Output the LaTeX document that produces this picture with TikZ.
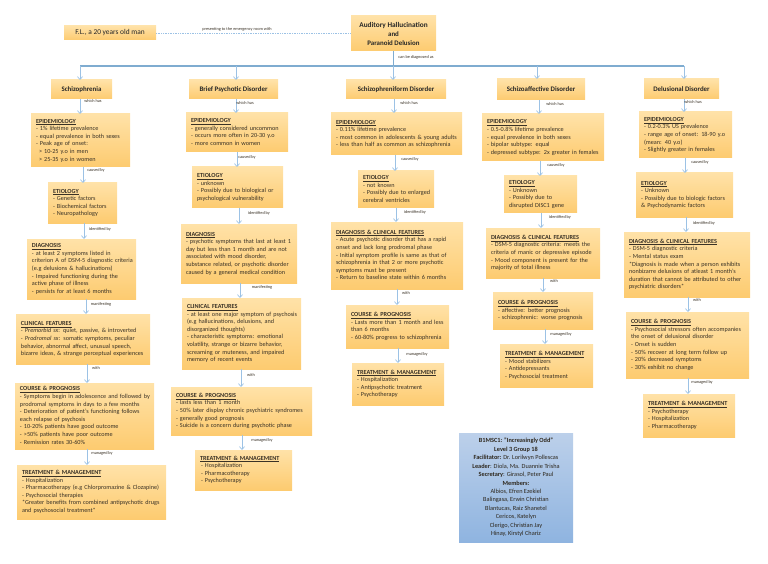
\documentclass[tikz,border=0pt]{standalone}
\usepackage{fontspec}
\setmainfont{Carlito}
\usetikzlibrary{arrows.meta}
\definecolor{inkc}{HTML}{3A3226}
\definecolor{boxtop}{HTML}{FFE2A8}
\definecolor{boxbot}{HTML}{FDCB70}
\definecolor{bluetop}{HTML}{BCD0EA}
\definecolor{bluebot}{HTML}{8FB4E0}
\definecolor{linec}{HTML}{9CC2E5}
\definecolor{trunkc}{HTML}{7FACD0}
\tikzset{
  x=1pt,y=-1pt,
  boxbase/.style={draw=none,top color=boxtop,bottom color=boxbot,inner sep=0pt,outer sep=0pt},
  textbox/.style={boxbase,align=left,text=inkc,font=\fontsize{6.2}{7.6}\selectfont},
  titlebox/.style={boxbase,align=center,text=black!85,font=\bfseries\fontsize{6.9}{9}\selectfont},
  groupbox/.style={draw=none,top color=bluetop,bottom color=bluebot,inner sep=0pt,outer sep=0pt,align=center,text=inkc!80!black,font=\fontsize{6.3}{8.45}\selectfont},
  lbl/.style={font=\fontsize{4.3}{5}\selectfont,text=inkc,inner sep=0pt},
  arrowc/.style={draw=linec,line width=.7pt,-{Straight Barb[length=2.8pt,width=5pt]}},
  trunk/.style={draw=trunkc,line width=1.1pt},
  dottedc/.style={draw=linec,line width=.7pt,densely dotted},
}
\newcommand{\bx}[7][textbox]{%
  \pgfmathsetmacro{\bw}{#5-#3}\pgfmathsetmacro{\bh}{#6-#4}%
  \pgfmathsetmacro{\cxx}{(#3+#5)/2}\pgfmathsetmacro{\cyy}{(#4+#6)/2}%
  \node[#1,minimum width=\bw pt,minimum height=\bh pt,text width=\bw pt] (#2) at (\cxx,\cyy) {\hspace*{5pt}\begin{tabular}{@{}l@{}}#7\end{tabular}};}
\newcommand{\tb}[6]{%
  \pgfmathsetmacro{\bw}{#4-#2}\pgfmathsetmacro{\bh}{#5-#3}%
  \pgfmathsetmacro{\cxx}{(#2+#4)/2}\pgfmathsetmacro{\cyy}{(#3+#5)/2}%
  \node[titlebox,minimum width=\bw pt,minimum height=\bh pt] (#1) at (\cxx,\cyy) {#6};}
\newcommand{\arr}[3]{\draw[arrowc] (#1.south -| #3,0) -- (#2.north -| #3,0);}
\newcommand{\hd}[1]{\textbf{\underline{#1}}}
\begin{document}
\begin{tikzpicture}
\useasboundingbox (0,0) rectangle (768,564);
% top row
\tb{fl}{64}{26}{156}{40}{\mdseries\fontsize{7.4}{8}\selectfont F.L., a 20 years old man}
\tb{aud}{351}{16}{436}{51}{\fontsize{7.3}{9}\selectfont Auditory Hallucination\\and\\Paranoid Delusion}
\draw[dottedc] (fl.east) -- (aud.west |- fl.east);
\node[lbl] (lpres) at (237,29) {presenting to the emergency room with};
\node[lbl] (ldiag) at (416,57) {can be diagnosed as};
\coordinate (busL) at (80,66);
\coordinate (busR) at (684,66);
\draw[trunk] (aud.south) -- (aud.south |- busL);
\draw[trunk] (busL) -- (busR);
% titles
\tb{sz}{51}{80}{112}{99}{Schizophrenia}
\tb{bp}{189}{80}{278}{99}{Brief Psychotic Disorder}
\tb{sf}{346}{80}{446}{99}{Schizophreniform Disorder}
\tb{sa}{497}{79}{585}{100}{Schizoaffective Disorder}
\tb{de}{644}{79}{719}{99}{Delusional Disorder}
\coordinate (d1) at (80,66);\coordinate (d2) at (236,66);\coordinate (d3) at (393,66);\coordinate (d4) at (537,66);\coordinate (d5) at (684,66);
\draw[arrowc] (d1) -- (sz.north -| d1);
\draw[arrowc] (d2) -- (bp.north -| d2);
\draw[arrowc] (d3) -- (sf.north -| d3);
\draw[arrowc] (d4) -- (sa.north -| d4);
\draw[arrowc] (d5) -- (de.north -| d5);
% column 1
\bx{a1}{31}{114}{130}{167}{\hd{EPIDEMIOLOGY}\\- 1\% lifetime prevalence\\- equal prevalence in both sexes\\- Peak age of onset:\\\hspace*{3pt}> 10-25 y.o in men\\\hspace*{3pt}> 25-35 y.o in women}
\bx{a2}{48}{183}{117}{223}{\hd{ETIOLOGY}\\- Genetic factors\\- Biochemical factors\\- Neuropathology}
\bx{a3}{27}{239}{136}{299}{\hd{DIAGNOSIS}\\- at least 2 symptoms listed in\\criterion A of DSM-5 diagnostic criteria\\(e.g delusions \& hallucinations)\\- Impaired functioning during the\\active phase of illness\\- persists for at least 6 months}
\bx{a4}{16}{314}{150}{364}{\hd{CLINICAL FEATURES}\\- \textit{Premorbid sx}: quiet, passive, \& introverted\\- \textit{Prodromal sx}: somatic symptoms, peculiar\\behavior, abnormal affect, unusual speech,\\bizarre ideas, \& strange perceptual experiences}
\bx{a5}{15}{383}{154}{449}{\hd{COURSE \& PROGNOSIS}\\- Symptoms begin in adolescence and followed by\\prodromal symptoms in days to a few months\\- Deterioration of patient's functioning follows\\each relapse of psychosis\\- 10-20\% patients have good outcome\\- >50\% patients have poor outcome\\- Remission rates 30-60\%}
\bx{a6}{17}{465}{166}{519}{\hd{TREATMENT \& MANAGEMENT}\\- Hospitalization\\- Pharmacotherapy (e.g  Chlorpromazine \& Clozapine)\\- Psychosocial therapies\\{*}Greater benefits from combined antipsychotic drugs\\and psychosocial treatment*}
\arr{sz}{a1}{80}\arr{a1}{a2}{83}\arr{a2}{a3}{84}\arr{a3}{a4}{86}\arr{a4}{a5}{87}\arr{a5}{a6}{87}
\node[lbl] (la1) at (93,101) {which has};
\node[lbl] (la2) at (96,170) {caused by};
\node[lbl] (la3) at (100,229) {identified by};
\node[lbl] (la4) at (101,304) {manifesting};
\node[lbl] (la5) at (96,368) {with};
\node[lbl] (la6) at (102,453) {managed by};
% column 2
\bx{b1}{186}{113}{288}{152}{\hd{EPIDEMIOLOGY}\\- generally considered uncommon\\- occurs more often in 20-30 y.o\\- more common in women}
\bx{b2}{192}{167}{283}{208}{\hd{ETIOLOGY}\\- unknown\\- Possibly due to biological or\\psychological vulnerability}
\bx{b3}{181}{224}{297}{283}{\hd{DIAGNOSIS}\\- psychotic symptoms that last at least 1\\day but less than 1 month and are not\\associated with mood disorder,\\substance related, or psychotic disorder\\caused by a general medical condition}
\bx{b4}{182}{298}{301}{369}{\hd{CLINICAL FEATURES}\\- at least one major symptom of psychosis\\(e.g hallucinations, delusions, and\\disorganized thoughts)\\- characteristic symptoms: emotional\\volatility, strange or bizarre behavior,\\screaming or muteness, and impaired\\memory of recent events}
\bx{b5}{171}{387}{312}{435}{\hd{COURSE \& PROGNOSIS}\\- lasts less than 1 month\\- 50\% later display chronic psychiatric syndromes\\- generally good prognosis\\- Suicide is a concern during psychotic phase}
\bx{b6}{195}{450}{292}{490}{\hd{TREATMENT \& MANAGEMENT}\\\hspace*{1pt}- Hospitalization\\\hspace*{1pt}- Pharmacotherapy\\\hspace*{1pt}- Psychotherapy}
\arr{bp}{b1}{236}\arr{b1}{b2}{237}\arr{b2}{b3}{239}\arr{b3}{b4}{240}\arr{b4}{b5}{241}\arr{b5}{b6}{242}
\node[lbl] (lb1) at (245,103) {which has};
\node[lbl] (lb2) at (247,157) {caused by};
\node[lbl] (lb3) at (259,213) {identified by};
\node[lbl] (lb4) at (262,287) {manifesting};
\node[lbl] (lb5) at (251,375) {with};
\node[lbl] (lb6) at (262,440) {managed by};
% column 3
\bx{c1}{331}{113}{462}{155}{\hd{EPIDEMIOLOGY}\\- 0.11\% lifetime prevalence\\- most common in adolescents \& young adults\\- less than half as common as schizophrenia}
\bx{c2}{358}{171}{434}{208}{\hd{ETIOLOGY}\\- not known\\- Possibly due to enlarged\\cerebral ventricles}
\bx{c3}{331}{222}{463}{289}{\hd{DIAGNOSIS \& CLINICAL FEATURES}\\- Acute psychotic disorder that has a rapid\\onset and lack long prodromal phase\\- Initial symptom profile is same as that of\\schizophrenia in that 2 or more psychotic\\symptoms must be present\\- Return to baseline state within 6 months}
\bx{c4}{346}{305}{449}{348}{\hd{COURSE \& PROGNOSIS}\\- Lasts more than 1 month and less\\than 6 months\\- 60-80\% progress to schizophrenia}
\bx{c5}{352}{363}{444}{405}{\hd{TREATMENT \& MANAGEMENT}\\- Hospitalization\\- Antipsychotic treatment\\- Psychotherapy}
\arr{sf}{c1}{394}\arr{c1}{c2}{395}\arr{c2}{c3}{396}\arr{c3}{c4}{397}\arr{c4}{c5}{398}
\node[lbl] (lc1) at (409,103) {which has};
\node[lbl] (lc2) at (410,159) {caused by};
\node[lbl] (lc3) at (415,212) {identified by};
\node[lbl] (lc4) at (406,293) {with};
\node[lbl] (lc5) at (417,354) {managed by};
% column 4
\bx{e1}{482}{114}{604}{161}{\hd{EPIDEMIOLOGY}\\- 0.5-0.8\% lifetime prevalence\\- equal prevalence in both sexes\\- bipolar subtype: equal\\- depressed subtype: 2x greater in females}
\bx{e2}{504}{176}{577}{213}{\hd{ETIOLOGY}\\- Unknown\\- Possibly due to\\disrupted DISC1 gene}
\bx{e3}{486}{228}{600}{278}{\hd{DIAGNOSIS \& CLINICAL FEATURES}\\- DSM-5 diagnostic criteria: meets the\\criteria of manic or depressive episode\\- Mood component is present for the\\majority of total illness}
\bx{e4}{493}{292}{593}{329}{\hd{COURSE \& PROGNOSIS}\\- affective: better prognosis\\- schizophrenic: worse prognosis}
\bx{e5}{500}{344}{593}{387}{\hd{TREATMENT \& MANAGEMENT}\\- Mood stabilizers\\- Antidepressants\\- Psychosocial treatment}
\arr{sa}{e1}{539}\arr{e1}{e2}{540}\arr{e2}{e3}{541}\arr{e3}{e4}{543}\arr{e4}{e5}{545}
\node[lbl] (le1) at (555,104) {which has};
\node[lbl] (le2) at (556,165) {caused by};
\node[lbl] (le3) at (560,217) {identified by};
\node[lbl] (le4) at (554,281) {with};
\node[lbl] (le5) at (561,334) {managed by};
% column 5
\bx{f1}{639}{112}{732}{158}{\hd{EPIDEMIOLOGY}\\- 0.2-0.3\% US prevalence\\- range age of onset: 18-90 y.o\\(mean: 40 y.o)\\- Slightly greater in females}
\bx{f2}{636}{173}{733}{217}{\hd{ETIOLOGY}\\- Unknown\\- Possibly due to biologic factors\\\& Psychodynamic factors}
\bx{f3}{624}{232}{750}{297}{\hd{DIAGNOSIS \& CLINICAL FEATURES}\\- DSM-5 diagnostic criteria\\- Mental status exam\\{*}Diagnosis is made when a person exhibits\\nonbizarre delusions of atleast 1 month's\\duration that cannot be attributed to other\\psychiatric disorders*}
\bx{f4}{626}{312}{749}{378}{\hd{COURSE \& PROGNOSIS}\\- Psychosocial stressors often accompanies\\the onset of delusional disorder\\- Onset is sudden\\- 50\% recover at long term follow up\\- 20\% decreased symptoms\\- 30\% exhibit no change}
\bx{f5}{643}{394}{735}{437}{\hd{TREATMENT \& MANAGEMENT}\\- Psychotherapy\\- Hospitalization\\- Pharmacotherapy}
\arr{de}{f1}{684}\arr{f1}{f2}{685}\arr{f2}{f3}{686}\arr{f3}{f4}{688}\arr{f4}{f5}{688}
\node[lbl] (lf1) at (693,102) {which has};
\node[lbl] (lf2) at (700,162) {caused by};
\node[lbl] (lf3) at (704,223) {identified by};
\node[lbl] (lf4) at (697,300) {with};
\node[lbl] (lf5) at (702,382) {managed by};
% group box
\node[groupbox,minimum width=114pt,minimum height=109pt] (grp) at (516,487.5) {\textbf{B1MSC1: "Increasingly Odd"}\\\textbf{Level 3 Group 18}\\\textbf{Facilitator:} Dr. Lorilwyn Pollescas\\\textbf{Leader}: Diola, Ma. Duannie Trisha\\\textbf{Secretary}: Girasol, Peter Paul\\\textbf{Members:}\\Albios, Efren Ezekiel\\Balingasa, Erwin Christian\\Blantucas, Raiz Shanetel\\Cericos, Katelyn\\Clerigo, Christian Jay\\Hinay, Kirstyl Chariz};
\end{tikzpicture}
\end{document}
